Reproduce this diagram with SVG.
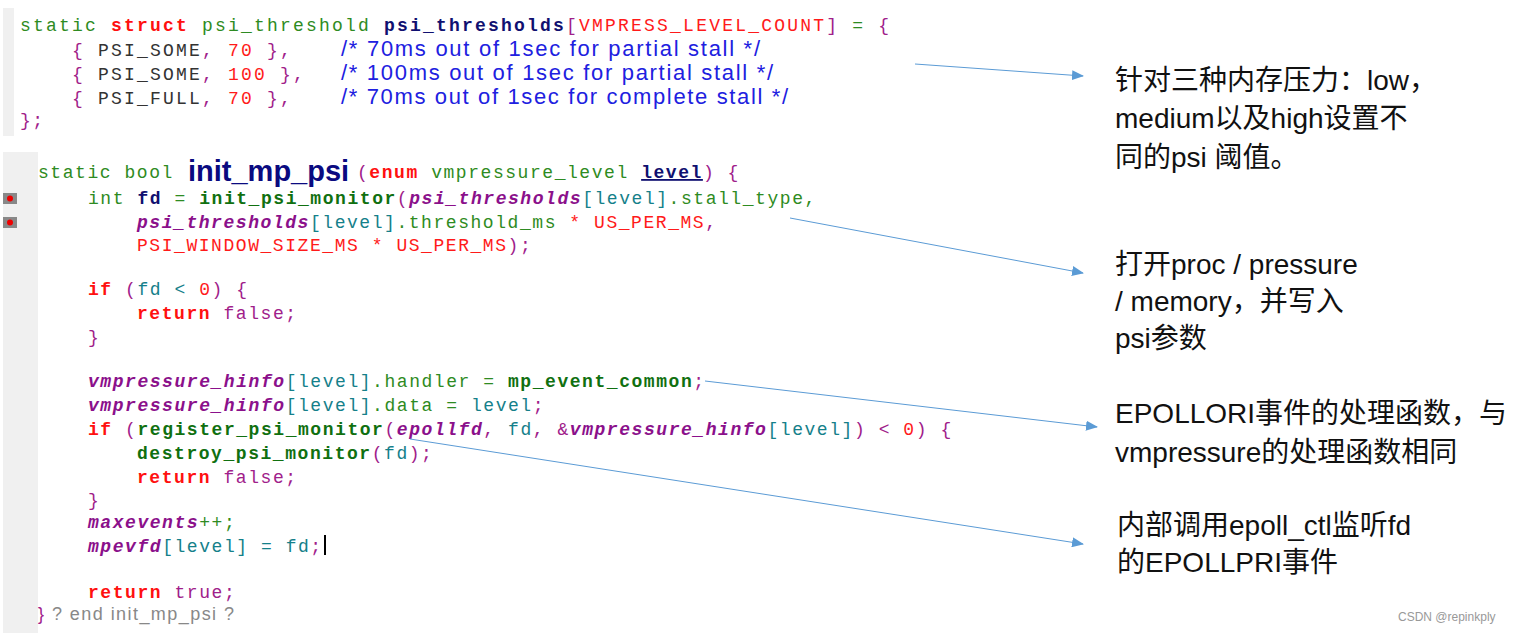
<svg xmlns="http://www.w3.org/2000/svg" width="1528" height="633" viewBox="0 0 1528 633">
<defs>
<style>
.c{font-family:"Liberation Mono",monospace;font-size:18px;letter-spacing:1.55px;white-space:pre}
.top{letter-spacing:2.2px}
.g{fill:#2e8b22}.r{fill:#ff1a1a}.n{fill:#101070;font-weight:bold}.p{fill:#a0208a}.t{fill:#15808a}.d{fill:#107010;font-weight:bold}
.pi{fill:#8b108b;font-weight:bold;font-style:italic}.rb{fill:#ff1010;font-weight:bold}.k{fill:#333}
.cm{font-family:"Liberation Sans",sans-serif;font-size:22px;fill:#2020e0}
.a{font-family:"Liberation Sans","Noto Sans CJK SC",sans-serif;font-size:28px;fill:#111}
.ln{stroke:#5b9bd5;stroke-width:1;fill:none;marker-end:url(#ah)}
</style>
<marker id="ah" markerWidth="12" markerHeight="10" refX="11" refY="5" orient="auto" markerUnits="userSpaceOnUse"><path d="M0,0 L12,5 L0,10 Z" fill="#5b9bd5"/></marker>
</defs>
<rect width="1528" height="633" fill="#fff"/>
<g id="code-top">
<rect x="3" y="8" width="11" height="128" fill="#f0f0f0"/>
<text class="c top" x="20" y="31"><tspan class="g">static </tspan><tspan class="rb">struct</tspan><tspan class="g"> psi_threshold </tspan><tspan class="n">psi_thresholds</tspan><tspan class="p">[</tspan><tspan class="r">VMPRESS_LEVEL_COUNT</tspan><tspan class="p">]</tspan><tspan class="g"> = </tspan><tspan class="p">{</tspan></text>
<text class="c top" x="72" y="56"><tspan class="p">{ </tspan><tspan class="k">PSI_SOME</tspan><tspan class="p">, </tspan><tspan class="r">70</tspan><tspan class="p"> },</tspan></text>
<text class="c top" x="72" y="80"><tspan class="p">{ </tspan><tspan class="k">PSI_SOME</tspan><tspan class="p">, </tspan><tspan class="r">100</tspan><tspan class="p"> },</tspan></text>
<text class="c top" x="72" y="104"><tspan class="p">{ </tspan><tspan class="k">PSI_FULL</tspan><tspan class="p">, </tspan><tspan class="r">70</tspan><tspan class="p"> },</tspan></text>
<text class="cm" x="341" y="56" textLength="419">/* 70ms out of 1sec for partial stall */</text>
<text class="cm" x="341" y="80" textLength="432">/* 100ms out of 1sec for partial stall */</text>
<text class="cm" x="341" y="104" textLength="447">/* 70ms out of 1sec for complete stall */</text>
<text class="c p" x="20" y="126">};</text>
</g>
<g id="code-main">
<rect x="3" y="152" width="35" height="481" fill="#f0f0f0"/>
<rect x="3" y="193" width="14" height="11" fill="#888"/><circle cx="10" cy="198.5" r="3" fill="#e00"/>
<rect x="3" y="217" width="14" height="11" fill="#888"/><circle cx="10" cy="222.5" r="3" fill="#e00"/>
<text class="c g" x="38" y="178">static bool </text>
<text x="188" y="181" font-family="Liberation Sans,sans-serif" font-size="29" font-weight="bold" fill="#0a0a80">init_mp_psi</text>
<text class="c" x="357" y="178"><tspan class="p">(</tspan><tspan class="rb">enum</tspan><tspan class="g"> vmpressure_level </tspan><tspan class="n" text-decoration="underline">level</tspan><tspan class="p">) {</tspan></text>
<text class="c" x="88" y="204"><tspan class="g">int </tspan><tspan class="n">fd</tspan><tspan class="g"> = </tspan><tspan class="d">init_psi_monitor</tspan><tspan class="p">(</tspan><tspan class="pi">psi_thresholds</tspan><tspan class="t">[level]</tspan><tspan class="g">.stall_type,</tspan></text>
<text class="c" x="137" y="228"><tspan class="pi">psi_thresholds</tspan><tspan class="t">[level]</tspan><tspan class="g">.threshold_ms </tspan><tspan class="r">* US_PER_MS</tspan><tspan class="p">,</tspan></text>
<text class="c" x="137" y="251"><tspan class="r">PSI_WINDOW_SIZE_MS * US_PER_MS</tspan><tspan class="p">);</tspan></text>
<text class="c" x="88" y="295"><tspan class="rb">if</tspan><tspan class="p"> (</tspan><tspan class="t">fd &lt; </tspan><tspan class="r">0</tspan><tspan class="p">) {</tspan></text>
<text class="c" x="137" y="319"><tspan class="rb">return</tspan><tspan class="p"> false;</tspan></text>
<text class="c p" x="88" y="343">}</text>
<text class="c" x="88" y="387"><tspan class="pi">vmpressure_hinfo</tspan><tspan class="t">[level]</tspan><tspan class="g">.handler = </tspan><tspan class="d">mp_event_common</tspan><tspan class="p">;</tspan></text>
<text class="c" x="88" y="411"><tspan class="pi">vmpressure_hinfo</tspan><tspan class="t">[level]</tspan><tspan class="g">.data = </tspan><tspan class="t">level</tspan><tspan class="p">;</tspan></text>
<text class="c" x="88" y="435"><tspan class="rb">if</tspan><tspan class="p"> (</tspan><tspan class="d">register_psi_monitor</tspan><tspan class="p">(</tspan><tspan class="pi">epollfd</tspan><tspan class="p">, </tspan><tspan class="t">fd</tspan><tspan class="p">, &amp;</tspan><tspan class="pi">vmpressure_hinfo</tspan><tspan class="t">[level]</tspan><tspan class="p">) &lt; </tspan><tspan class="r">0</tspan><tspan class="p">) {</tspan></text>
<text class="c" x="137" y="459"><tspan class="d">destroy_psi_monitor</tspan><tspan class="p">(</tspan><tspan class="t">fd</tspan><tspan class="p">);</tspan></text>
<text class="c" x="137" y="483"><tspan class="rb">return</tspan><tspan class="p"> false;</tspan></text>
<text class="c p" x="88" y="506">}</text>
<text class="c" x="88" y="528"><tspan class="pi">maxevents</tspan><tspan class="g">++;</tspan></text>
<text class="c" x="88" y="552"><tspan class="pi">mpevfd</tspan><tspan class="t">[level] = fd</tspan><tspan class="p">;</tspan></text>
<rect x="324" y="535" width="2" height="20" fill="#000"/>
<text class="c" x="88" y="598"><tspan class="rb">return</tspan><tspan class="p"> true;</tspan></text>
<text x="38" y="620" font-family="Liberation Sans,sans-serif" font-size="18" fill="#888" textLength="196"><tspan fill="#a0208a">}</tspan> ?  end init_mp_psi ?</text>
</g>
<g id="connectors">
<line class="ln" x1="915" y1="64" x2="1083" y2="76"/>
<line class="ln" x1="790" y1="218" x2="1083" y2="273"/>
<line class="ln" x1="705" y1="381" x2="1097" y2="427"/>
<line class="ln" x1="410" y1="439" x2="1083" y2="544"/>
</g>
<g id="note1"><text class="a" x="1115" y="90">针对三种内存压力：low，</text><text class="a" x="1115" y="128">medium以及high设置不</text><text class="a" x="1115" y="167">同的psi 阈值。</text></g>
<g id="note2"><text class="a" x="1115" y="274">打开proc / pressure</text><text class="a" x="1115" y="311">/ memory，并写入</text><text class="a" x="1115" y="348">psi参数</text></g>
<g id="note3"><text class="a" x="1115" y="423">EPOLLORI事件的处理函数，与</text><text class="a" x="1115" y="462">vmpressure的处理函数相同</text></g>
<g id="note4"><text class="a" x="1117" y="535">内部调用epoll_ctl监听fd</text><text class="a" x="1117" y="572">的EPOLLPRI事件</text></g>
<text x="1398" y="621" font-family="Liberation Sans,sans-serif" font-size="12" fill="#999">CSDN @repinkply</text>
</svg>
